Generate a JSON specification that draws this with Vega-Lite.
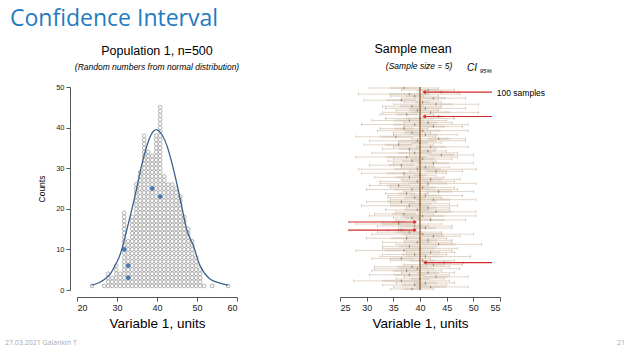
{
"$schema": "https://vega.github.io/schema/vega-lite/v6.json",
"background": "white",
"padding": {"left": 5, "top": 8, "right": 5, "bottom": 4},
"bounds": "flush",
"spacing": 103,
"title": {"text": "Confidence Interval", "anchor": "start", "frame": "bounds", "dx": 5, "fontSize": 23, "font": "Open Sans", "fontWeight": "normal", "color": "#1f7cc0", "offset": 12},
"config": {
  "view": {"stroke": null},
  "font": "Liberation Sans",
  "axis": {"grid": false, "domainColor": "#555", "tickColor": "#555", "labelColor": "#222", "labelFont": "Liberation Sans", "titleFont": "Liberation Sans", "titleFontWeight": "normal", "titleColor": "#000", "tickSize": 4, "labelPadding": 2},
  "title": {"font": "Liberation Sans", "fontWeight": "normal", "color": "#000", "subtitleColor": "#000", "subtitleFont": "Liberation Sans"}
},
"datasets": {
  "dots": [
    {"x": 23.8, "c": [1]},
    {"x": 26.8, "c": [1]},
    {"x": 27.8, "c": [1,2,3,4]},
    {"x": 28.8, "c": [1,2,3]},
    {"x": 29.8, "c": [1,2,3,4,5,6]},
    {"x": 30.8, "c": [1,2,3,4]},
    {"x": 31.8, "c": [1,2,3,4,5,6,7,8,9,10,11,12,13,14,15,16,17,18,19]},
    {"x": 32.8, "c": [1,2,3,4,5,6,7,8,9,10,11,12]},
    {"x": 33.8, "c": [1,2,3,4,5,6,7,8,9,10,11,12,13,14,15,16,17,18]},
    {"x": 34.8, "c": [1,2,3,4,5,6,7,8,9,10,11,12,13,14,15,16,17,18,19,20,21,22,23,24,25,26]},
    {"x": 35.8, "c": [1,2,3,4,5,6,7,8,9,10,11,12,13,14,15,16,17,18,19,20,21,22,23,24,25,26,27,28,29]},
    {"x": 36.8, "c": [1,2,3,4,5,6,7,8,9,10,11,12,13,14,15,16,17,18,19,20,21,22,23,24,25,26,27,28,29,30,31,32,33,34,35,36,37,38]},
    {"x": 37.8, "c": [1,2,3,4,5,6,7,8,9,10,11,12,13,14,15,16,17,18,19,20,21,22,23,24,25,26,27,28,29,30,31,32,33,34]},
    {"x": 38.8, "c": [1,2,3,4,5,6,7,8,9,10,11,12,13,14,15,16,17,18,19,20,21,22,23,24,25,26,27,28,29,30,31,32,33]},
    {"x": 39.8, "c": [1,2,3,4,5,6,7,8,9,10,11,12,13,14,15,16,17,18,19,20,21,22,23,24,25,26,27,28,29,30,31,32,33,34,35,36,37,38]},
    {"x": 40.8, "c": [1,2,3,4,5,6,7,8,9,10,11,12,13,14,15,16,17,18,19,20,21,22,23,24,25,26,27,28,29,30,31,32,33,34,35,36,37,38,39,40,41,42,43,44,45]},
    {"x": 41.8, "c": [1,2,3,4,5,6,7,8,9,10,11,12,13,14,15,16,17,18,19,20,21,22,23,24,25,26,27,28]},
    {"x": 42.8, "c": [1,2,3,4,5,6,7,8,9,10,11,12,13,14,15,16,17,18,19,20,21,22,23,24,25,26]},
    {"x": 43.8, "c": [1,2,3,4,5,6,7,8,9,10,11,12,13,14,15,16,17,18,19,20,21,22,23,24,25,26]},
    {"x": 44.8, "c": [1,2,3,4,5,6,7,8,9,10,11,12,13,14,15,16,17,18,19,20,21,22,23,24,25]},
    {"x": 45.8, "c": [1,2,3,4,5,6,7,8,9,10,11,12,13,14,15,16,17,18,19,20,21,22,23]},
    {"x": 46.8, "c": [1,2,3,4,5,6,7,8,9,10,11,12,13,14,15,16,17,18]},
    {"x": 47.8, "c": [1,2,3,4,5,6,7,8,9,10,11,12,13,14,15]},
    {"x": 48.8, "c": [1,2,3,4,5,6,7,8,9,10,11,12]},
    {"x": 49.8, "c": [1,2,3,4,5,6,7,8]},
    {"x": 50.8, "c": [1,2,3,4,5]},
    {"x": 51.8, "c": [1]},
    {"x": 53.8, "c": [1]},
    {"x": 57.8, "c": [1]}
  ],
  "sample": [
    {"x": 31.8, "c": 10}, {"x": 32.8, "c": 6}, {"x": 32.8, "c": 3}, {"x": 38.8, "c": 25}, {"x": 40.8, "c": 23}
  ],
  "curve": [
    {"x": 23.6, "c": 1.2}, {"x": 25, "c": 1.6}, {"x": 27, "c": 2.7}, {"x": 28.5, "c": 4.2}, {"x": 29.5, "c": 6},
    {"x": 30.5, "c": 8}, {"x": 31.2, "c": 10}, {"x": 32.4, "c": 14.6}, {"x": 33.5, "c": 19}, {"x": 34.8, "c": 24.5},
    {"x": 36, "c": 30}, {"x": 37.2, "c": 34.6}, {"x": 38.4, "c": 38}, {"x": 39.8, "c": 39.5}, {"x": 41.2, "c": 38.3},
    {"x": 42.5, "c": 35.5}, {"x": 43.8, "c": 31}, {"x": 45, "c": 26}, {"x": 46.2, "c": 20.5}, {"x": 47.4, "c": 15},
    {"x": 49.1, "c": 10.9}, {"x": 50.75, "c": 6}, {"x": 52, "c": 4}, {"x": 53.25, "c": 2.7}, {"x": 55.75, "c": 1.7}, {"x": 57.8, "c": 1.2}
  ],
  "ci": [
    {"r":1,"m":37,"lo":30.5,"hi":43.5,"b1":34.4,"b2":39.6},
    {"r":2,"m":41.5,"lo":36.5,"hi":46.5,"b1":39.5,"b2":43.5},
    {"r":3,"m":44,"lo":40.8,"hi":47.2,"b1":42.7,"b2":45.3},
    {"r":4,"m":38,"lo":28.5,"hi":47.5,"b1":34.2,"b2":41.8},
    {"r":5,"m":39,"lo":34.5,"hi":43.5,"b1":37.2,"b2":40.8},
    {"r":6,"m":42.5,"lo":36.5,"hi":48.5,"b1":40.1,"b2":44.9},
    {"r":7,"m":36.5,"lo":29.5,"hi":43.5,"b1":33.7,"b2":39.3},
    {"r":8,"m":40.5,"lo":37,"hi":44,"b1":39.1,"b2":41.9},
    {"r":9,"m":43,"lo":35,"hi":51,"b1":39.8,"b2":46.2},
    {"r":10,"m":38.5,"lo":33,"hi":44,"b1":36.3,"b2":40.7},
    {"r":11,"m":41,"lo":33.5,"hi":48.5,"b1":38,"b2":44},
    {"r":12,"m":39.5,"lo":35.5,"hi":43.5,"b1":37.9,"b2":41.1},
    {"r":13,"m":42,"lo":33,"hi":51,"b1":38.4,"b2":45.6},
    {"r":14,"m":37.5,"lo":32.5,"hi":42.5,"b1":35.5,"b2":39.5},
    {"r":15,"m":43.5,"lo":40.8,"hi":46.2,"b1":42.4,"b2":44.6},
    {"r":16,"m":40,"lo":33.5,"hi":46.5,"b1":37.4,"b2":42.6},
    {"r":17,"m":38,"lo":31,"hi":45,"b1":35.2,"b2":40.8},
    {"r":18,"m":41.5,"lo":37,"hi":46,"b1":39.7,"b2":43.3},
    {"r":19,"m":39,"lo":29,"hi":49,"b1":35,"b2":43},
    {"r":20,"m":42.5,"lo":37,"hi":48,"b1":40.3,"b2":44.7},
    {"r":21,"m":37,"lo":32.5,"hi":41.5,"b1":35.2,"b2":38.8},
    {"r":22,"m":40.5,"lo":32,"hi":49,"b1":37.1,"b2":43.9},
    {"r":23,"m":38.5,"lo":35,"hi":42,"b1":37.1,"b2":39.9},
    {"r":24,"m":41,"lo":35,"hi":47,"b1":38.6,"b2":43.4},
    {"r":25,"m":35.5,"lo":28,"hi":43,"b1":32.5,"b2":38.5},
    {"r":26,"m":43.5,"lo":38.5,"hi":48.5,"b1":41.5,"b2":45.5},
    {"r":27,"m":39.5,"lo":30.5,"hi":48.5,"b1":35.9,"b2":43.1},
    {"r":28,"m":40,"lo":36,"hi":44,"b1":38.4,"b2":41.6},
    {"r":29,"m":36,"lo":29.5,"hi":42.5,"b1":33.4,"b2":38.6},
    {"r":30,"m":42,"lo":35,"hi":49,"b1":39.2,"b2":44.8},
    {"r":31,"m":38,"lo":33,"hi":43,"b1":36,"b2":40},
    {"r":32,"m":41.5,"lo":38,"hi":45,"b1":40.1,"b2":42.9},
    {"r":33,"m":39,"lo":31,"hi":47,"b1":35.8,"b2":42.2},
    {"r":34,"m":44,"lo":38,"hi":50,"b1":41.6,"b2":46.4},
    {"r":35,"m":37.5,"lo":28,"hi":47,"b1":33.7,"b2":41.3},
    {"r":36,"m":40.5,"lo":35,"hi":46,"b1":38.3,"b2":42.7},
    {"r":37,"m":38.5,"lo":34,"hi":43,"b1":36.7,"b2":40.3},
    {"r":38,"m":42.5,"lo":35,"hi":50,"b1":39.5,"b2":45.5},
    {"r":39,"m":36.5,"lo":30.5,"hi":42.5,"b1":34.1,"b2":38.9},
    {"r":40,"m":41,"lo":36.5,"hi":45.5,"b1":39.2,"b2":42.8},
    {"r":41,"m":39.5,"lo":28.5,"hi":50.5,"b1":35.1,"b2":43.9},
    {"r":42,"m":43,"lo":38,"hi":48,"b1":41,"b2":45},
    {"r":43,"m":37,"lo":29,"hi":45,"b1":33.8,"b2":40.2},
    {"r":44,"m":40,"lo":37,"hi":43,"b1":38.8,"b2":41.2},
    {"r":45,"m":38,"lo":31.5,"hi":44.5,"b1":35.4,"b2":40.6},
    {"r":46,"m":42,"lo":36.5,"hi":47.5,"b1":39.8,"b2":44.2},
    {"r":47,"m":39.5,"lo":32.5,"hi":46.5,"b1":36.7,"b2":42.3},
    {"r":48,"m":41.5,"lo":32.5,"hi":50.5,"b1":37.9,"b2":45.1},
    {"r":49,"m":36,"lo":30.5,"hi":41.5,"b1":33.8,"b2":38.2},
    {"r":50,"m":40.5,"lo":34.5,"hi":46.5,"b1":38.1,"b2":42.9},
    {"r":51,"m":38.5,"lo":30,"hi":47,"b1":35.1,"b2":41.9},
    {"r":52,"m":43.5,"lo":37,"hi":50,"b1":40.9,"b2":46.1},
    {"r":53,"m":37.5,"lo":33.5,"hi":41.5,"b1":35.9,"b2":39.1},
    {"r":54,"m":41,"lo":34,"hi":48,"b1":38.2,"b2":43.8},
    {"r":55,"m":39,"lo":34,"hi":44,"b1":37,"b2":41},
    {"r":56,"m":42.5,"lo":34.5,"hi":50.5,"b1":39.3,"b2":45.7},
    {"r":57,"m":36.5,"lo":30,"hi":43,"b1":33.9,"b2":39.1},
    {"r":58,"m":40,"lo":34.5,"hi":45.5,"b1":37.8,"b2":42.2},
    {"r":59,"m":38,"lo":29,"hi":47,"b1":34.4,"b2":41.6},
    {"r":60,"m":41.5,"lo":37.5,"hi":45.5,"b1":39.9,"b2":43.1},
    {"r":61,"m":39.5,"lo":33.5,"hi":45.5,"b1":37.1,"b2":41.9},
    {"r":62,"m":43,"lo":35.5,"hi":50.5,"b1":40,"b2":46},
    {"r":63,"m":37,"lo":31.5,"hi":42.5,"b1":34.8,"b2":39.2},
    {"r":64,"m":40.5,"lo":30.5,"hi":50.5,"b1":36.5,"b2":44.5},
    {"r":65,"m":38.5,"lo":35,"hi":42,"b1":37.1,"b2":39.9},
    {"r":66,"m":42,"lo":35.5,"hi":48.5,"b1":39.4,"b2":44.6},
    {"r":67,"m":36,"lo":32.9,"hi":39.1,"b1":34.8,"b2":37.2},
    {"r":68,"m":36,"lo":28,"hi":44,"b1":32.8,"b2":39.2},
    {"r":69,"m":39,"lo":32,"hi":46,"b1":36.2,"b2":41.8},
    {"r":70,"m":41,"lo":36,"hi":46,"b1":39,"b2":43},
    {"r":71,"m":36.5,"lo":33.9,"hi":39.1,"b1":35.5,"b2":37.5},
    {"r":72,"m":38,"lo":32,"hi":44,"b1":35.6,"b2":40.4},
    {"r":73,"m":40.5,"lo":31,"hi":50,"b1":36.7,"b2":44.3},
    {"r":74,"m":42.5,"lo":37.5,"hi":47.5,"b1":40.5,"b2":44.5},
    {"r":75,"m":37.5,"lo":30,"hi":45,"b1":34.5,"b2":40.5},
    {"r":76,"m":41.5,"lo":37,"hi":46,"b1":39.7,"b2":43.3},
    {"r":77,"m":39.5,"lo":33,"hi":46,"b1":36.9,"b2":42.1},
    {"r":78,"m":43.5,"lo":35.5,"hi":51.5,"b1":40.3,"b2":46.7},
    {"r":79,"m":38,"lo":33,"hi":43,"b1":36,"b2":40},
    {"r":80,"m":40,"lo":33,"hi":47,"b1":37.2,"b2":42.8},
    {"r":81,"m":37,"lo":28,"hi":46,"b1":33.4,"b2":40.6},
    {"r":82,"m":42,"lo":37.5,"hi":46.5,"b1":40.2,"b2":43.8},
    {"r":83,"m":39,"lo":33,"hi":45,"b1":36.6,"b2":41.4},
    {"r":84,"m":41,"lo":32.5,"hi":49.5,"b1":37.6,"b2":44.4},
    {"r":85,"m":36.5,"lo":31,"hi":42,"b1":34.3,"b2":38.7},
    {"r":86,"m":40.5,"lo":34.5,"hi":46.5,"b1":38.1,"b2":42.9},
    {"r":87,"m":44.5,"lo":40.9,"hi":48.1,"b1":43.1,"b2":45.9},
    {"r":88,"m":42.5,"lo":37,"hi":48,"b1":40.3,"b2":44.7},
    {"r":89,"m":38.5,"lo":31.5,"hi":45.5,"b1":35.7,"b2":41.3},
    {"r":90,"m":39.5,"lo":31.5,"hi":47.5,"b1":36.3,"b2":42.7},
    {"r":91,"m":37.5,"lo":31,"hi":44,"b1":34.9,"b2":40.1},
    {"r":92,"m":41.5,"lo":36.5,"hi":46.5,"b1":39.5,"b2":43.5},
    {"r":93,"m":38,"lo":30.5,"hi":45.5,"b1":35,"b2":41},
    {"r":94,"m":43,"lo":37,"hi":49,"b1":40.6,"b2":45.4},
    {"r":95,"m":40,"lo":35.5,"hi":44.5,"b1":38.2,"b2":41.8},
    {"r":96,"m":36.5,"lo":27.5,"hi":45.5,"b1":32.9,"b2":40.1},
    {"r":97,"m":41,"lo":35.5,"hi":46.5,"b1":38.8,"b2":43.2},
    {"r":98,"m":39,"lo":33,"hi":45,"b1":36.6,"b2":41.4},
    {"r":99,"m":42,"lo":35,"hi":49,"b1":39.2,"b2":44.8},
    {"r":100,"m":38.5,"lo":34.5,"hi":42.5,"b1":36.9,"b2":40.1}
  ],
  "arrows": [
    {"r": 3, "from": 53.5, "to": 40.75, "s": "triangle-left"},
    {"r": 15, "from": 53.5, "to": 40.75, "s": "triangle-left"},
    {"r": 67, "from": 26.5, "to": 39.1, "s": "triangle-right"},
    {"r": 71, "from": 26.5, "to": 39.1, "s": "triangle-right"},
    {"r": 87, "from": 53.5, "to": 40.9, "s": "triangle-left"}
  ]
},
"hconcat": [
  {
    "width": 160, "height": 203,
    "title": {"text": "Population 1, n=500", "subtitle": "(Random numbers from normal distribution)", "frame": "group", "fontSize": 12.5, "subtitleFontSize": 8.5, "subtitleFontStyle": "italic", "subtitlePadding": 5, "offset": 12, "anchor": "middle"},
    "encoding": {
      "x": {"field": "x", "type": "quantitative", "scale": {"domain": [20, 60], "nice": false, "zero": false, "padding": 0}, "axis": {"values": [20, 30, 40, 50, 60], "offset": 7, "labelFontSize": 9, "title": "Variable 1, units", "titleFontSize": 13.5, "titlePadding": 4}},
      "y": {"field": "c", "type": "quantitative", "scale": {"domain": [0, 50], "nice": false, "zero": false, "padding": 0}, "axis": {"values": [0, 10, 20, 30, 40, 50], "offset": 7, "labelFontSize": 7.5, "title": "Counts", "titleFontSize": 8.5, "titlePadding": 9}}
    },
    "layer": [
      {"data": {"name": "dots"}, "transform": [{"flatten": ["c"]}], "mark": {"type": "point", "filled": false, "size": 14, "strokeWidth": 0.8, "color": "#9e9e9e", "opacity": 1}},
      {"data": {"name": "sample"}, "mark": {"type": "circle", "size": 24, "color": "#4b7db3", "opacity": 1}},
      {"data": {"name": "curve"}, "mark": {"type": "line", "interpolate": "monotone", "color": "#3a628f", "strokeWidth": 1.3}},
      {"data": {"values": [{"x": 2, "c": -13.6, "t": "27.03.2021    Galankin T"}]}, "mark": {"type": "text", "align": "left", "baseline": "alphabetic", "fontSize": 7, "color": "#aaaaaa", "font": "Open Sans"}, "encoding": {"text": {"field": "t"}}},
      {"data": {"values": [{"x": 157, "c": -13.6, "t": "21"}]}, "mark": {"type": "text", "align": "right", "baseline": "alphabetic", "fontSize": 7, "color": "#aaaaaa", "font": "Open Sans"}, "encoding": {"text": {"field": "t"}}}
    ]
  },
  {
    "width": 160, "height": 203,
    "encoding": {
      "x": {"field": "lo", "type": "quantitative", "scale": {"domain": [25, 55], "nice": false, "zero": false, "padding": 0}, "axis": {"values": [25, 30, 35, 40, 45, 50, 55], "offset": 7, "labelFontSize": 9, "title": "Variable 1, units", "titleFontSize": 13.5, "titlePadding": 4}},
      "y": {"field": "r", "type": "quantitative", "scale": {"domain": [0.5, 100.5], "reverse": true, "nice": false, "zero": false, "padding": 0}, "axis": null}
    },
    "layer": [
      {"data": {"name": "ci"}, "mark": {"type": "bar", "size": 2.2, "color": "#e7e1d8"}, "encoding": {"x": {"field": "b1", "type": "quantitative"}, "x2": {"field": "b2"}}},
      {"data": {"name": "ci"}, "mark": {"type": "rule", "color": "#d0b9a2", "strokeWidth": 0.6}, "encoding": {"x": {"field": "lo", "type": "quantitative"}, "x2": {"field": "hi"}}},
      {"data": {"name": "ci"}, "mark": {"type": "tick", "orient": "vertical", "size": 3, "thickness": 0.6, "color": "#b89e86"}, "encoding": {"x": {"field": "lo", "type": "quantitative"}}},
      {"data": {"name": "ci"}, "mark": {"type": "tick", "orient": "vertical", "size": 3, "thickness": 0.6, "color": "#b89e86"}, "encoding": {"x": {"field": "hi", "type": "quantitative"}}},
      {"data": {"name": "ci"}, "mark": {"type": "tick", "orient": "vertical", "size": 2.5, "thickness": 1, "color": "#7a5a40"}, "encoding": {"x": {"field": "m", "type": "quantitative"}}},
      {"data": {"values": [{"v": 40}]}, "mark": {"type": "rule", "color": "#8b5a2b", "strokeWidth": 1.3}, "encoding": {"x": {"field": "v", "type": "quantitative"}, "y": null}},
      {"data": {"name": "arrows"}, "mark": {"type": "rule", "color": "#d42a2a", "strokeWidth": 1.1}, "encoding": {"x": {"field": "from", "type": "quantitative"}, "x2": {"field": "to"}}},
      {"data": {"name": "arrows"}, "mark": {"type": "point", "filled": true, "size": 18, "color": "#d42a2a", "opacity": 1}, "encoding": {"x": {"field": "to", "type": "quantitative"}, "shape": {"field": "s", "type": "nominal", "scale": null}}},
      {"data": {"values": [{"lo": 54.4, "r": 3.5, "t": "100 samples"}]}, "mark": {"type": "text", "align": "left", "baseline": "middle", "fontSize": 8.5, "color": "#000"}, "encoding": {"text": {"field": "t"}}},
      {"data": {"values": [{"lo": 38.7, "r": -16.2, "t": "Sample mean"}]}, "mark": {"type": "text", "align": "center", "baseline": "alphabetic", "fontSize": 12.5, "color": "#000"}, "encoding": {"text": {"field": "t"}}},
      {"data": {"values": [{"lo": 33.6, "r": -8.2, "t": "(Sample size = 5)"}]}, "mark": {"type": "text", "align": "left", "baseline": "alphabetic", "fontSize": 8.5, "fontStyle": "italic", "color": "#000"}, "encoding": {"text": {"field": "t"}}},
      {"data": {"values": [{"lo": 48.8, "r": -7.6, "t": "CI"}]}, "mark": {"type": "text", "align": "left", "baseline": "alphabetic", "fontSize": 10, "fontStyle": "italic", "color": "#000"}, "encoding": {"text": {"field": "t"}}},
      {"data": {"values": [{"lo": 51.2, "r": -6.2, "t": "95%"}]}, "mark": {"type": "text", "align": "left", "baseline": "alphabetic", "fontSize": 6, "fontStyle": "italic", "color": "#000"}, "encoding": {"text": {"field": "t"}}}
    ]
  }
]
}
